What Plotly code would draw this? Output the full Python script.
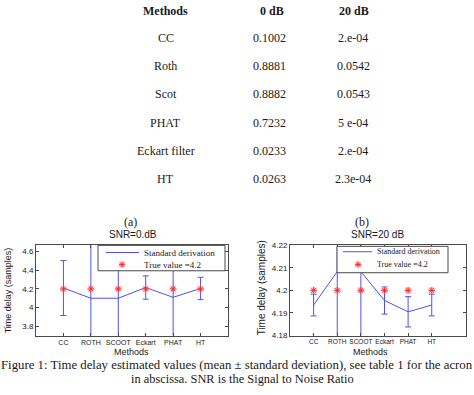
import plotly.graph_objects as go

# ---------------- data ----------------
table_methods = ["CC", "Roth", "Scot", "PHAT", "Eckart filter", "HT"]
table_0db = ["0.1002", "0.8881", "0.8882", "0.7232", "0.0233", "0.0263"]
table_20db = ["2.e-04", "0.0542", "0.0543", "5 e-04", "2.e-04", "2.3e-04"]

methods = ["CC", "ROTH", "SCOOT", "Eckart", "PHAT", "HT"]
method_pos = [1, 2, 3, 4, 5, 6]

mean_0db = [4.21, 4.10, 4.10, 4.215, 4.11, 4.205]
std_0db = [0.295, 0.888, 0.888, 0.125, 0.723, 0.12]

mean_20db = [4.1935, 4.2083, 4.2083, 4.1955, 4.1905, 4.1935]
std_20db = [0.0048, 0.0542, 0.0543, 0.006, 0.0067, 0.0048]

true_value = [4.2, 4.2, 4.2, 4.2, 4.2, 4.2]

yticks_0db = [3.8, 4.0, 4.2, 4.4, 4.6]
yticklabels_0db = ["3.8", "4", "4.2", "4.4", "4.6"]
yticks_20db = [4.18, 4.19, 4.20, 4.21, 4.22]
yticklabels_20db = ["4.18", "4.19", "4.2", "4.21", "4.22"]

# ---------------- helpers ----------------
W, H = 474, 395


def px(x):
    return x / W


def py(y):
    return 1 - y / H


BLUE = "#5050f0"
RED = "#ff2020"
GLOW = "rgba(255,160,160,0.45)"
FRAME = "#4a4a4a"
TXT = "#1a1a1a"
SANS = "Liberation Sans, Arial, sans-serif"
SERIF = "Liberation Serif, Times New Roman, serif"

fig = go.Figure()

panels = [
    dict(xa="x", ya="y", mean=mean_0db, std=std_0db),
    dict(xa="x2", ya="y2", mean=mean_20db, std=std_20db),
]
for p in panels:
    fig.add_trace(go.Scatter(
        x=method_pos, y=p["mean"], mode="lines",
        line=dict(color=BLUE, width=1),
        error_y=dict(type="data", array=p["std"], symmetric=True,
                     color=BLUE, thickness=1, width=3),
        xaxis=p["xa"], yaxis=p["ya"], showlegend=False, cliponaxis=True,
    ))
    fig.add_trace(go.Scatter(
        x=method_pos, y=true_value, mode="markers",
        marker=dict(symbol="circle", size=7, color=GLOW, line=dict(width=0)),
        xaxis=p["xa"], yaxis=p["ya"], showlegend=False, hoverinfo="skip",
    ))
    fig.add_trace(go.Scatter(
        x=method_pos, y=true_value, mode="markers",
        marker=dict(symbol="asterisk-open", size=5.5, color=RED,
                    line=dict(color=RED, width=0.9)),
        xaxis=p["xa"], yaxis=p["ya"], showlegend=False,
    ))

axis_common = dict(showline=True, linecolor=FRAME, linewidth=1, mirror="ticks",
                   ticks="inside", ticklen=3, tickcolor=FRAME, showgrid=False,
                   zeroline=False, tickangle=0)

fig.update_layout(
    width=W, height=H,
    margin=dict(l=0, r=0, t=0, b=0),
    paper_bgcolor="white", plot_bgcolor="white",
    showlegend=False,
    xaxis=dict(domain=[px(36), px(228)], range=[0, 7], tickvals=method_pos,
               ticktext=methods, anchor="y",
               tickfont=dict(family=SANS, size=7, color=TXT), **axis_common),
    yaxis=dict(domain=[py(339.3), py(246.7)], range=[3.70, 4.67],
               tickvals=yticks_0db, ticktext=yticklabels_0db, anchor="x",
               tickfont=dict(family=SANS, size=8, color=TXT), **axis_common),
    xaxis2=dict(domain=[px(290), px(466)], range=[0, 7.45], tickvals=method_pos,
                ticktext=methods, anchor="y2",
                tickfont=dict(family=SANS, size=6.5, color=TXT), **axis_common),
    yaxis2=dict(domain=[py(339.3), py(246.7)], range=[4.18, 4.22],
                tickvals=yticks_20db, ticktext=yticklabels_20db, anchor="x2",
                tickfont=dict(family=SANS, size=8, color=TXT), **axis_common),
)

ann = []


def text(x, y, s, size, family=SERIF, xanchor="center", angle=0, bold=False):
    if bold:
        s = "<b>" + s + "</b>"
    ann.append(dict(x=px(x), y=py(y), xref="paper", yref="paper", text=s,
                    showarrow=False, xanchor=xanchor, yanchor="middle",
                    textangle=angle, font=dict(family=family, size=size, color=TXT)))


# ---------------- table ----------------
text(165.5, 7, "Methods", 12, bold=True)
text(272, 7, "0 dB", 12, bold=True)
text(354, 7, "20 dB", 12, bold=True)
row_y = [34.5, 63.5, 92.5, 121.5, 150.5, 179.5]
for yy, m, a, b in zip(row_y, table_methods, table_0db, table_20db):
    text(165.5, yy, m, 12)
    text(269, yy, a, 12)
    text(353, yy, b, 12)

# ---------------- panel titles ----------------
text(130, 223, "(a)", 12)
text(133, 236, "SNR=0.dB", 10, family=SANS)
text(362, 223, "(b)", 12)
text(377, 236, "SNR=20 dB", 10, family=SANS)

# axis titles
text(8, 293, "Time delay (samples)", 9, family=SANS, angle=-90)
text(261, 291, "Time delay (samples)", 10, family=SANS, angle=-90)
text(131, 356.5, "Methods", 9, family=SANS)
text(370, 356.5, "Methods", 9, family=SANS)

# caption
text(237, 369, "Figure 1: Time delay estimated values (mean \u00b1 standard deviation), "
     "see table 1 for the acron", 12.8)
text(243, 384, "in abscissa. SNR is the Signal to Noise Ratio", 12.4)

# ---------------- legends (drawn manually) ----------------
shapes = []


def legend(x0, x1, y0, y1, lx0, lx1, ly1, ly2, mx, tx, fsize):
    shapes.append(dict(type="rect", xref="paper", yref="paper", x0=px(x0), x1=px(x1),
                       y0=py(y1), y1=py(y0), fillcolor="white",
                       line=dict(color=FRAME, width=1), layer="above"))
    shapes.append(dict(type="line", xref="paper", yref="paper", x0=px(lx0), x1=px(lx1),
                       y0=py(ly1), y1=py(ly1), line=dict(color=BLUE, width=1),
                       layer="above"))
    shapes.append(dict(type="circle", xref="paper", yref="paper", xsizemode="pixel",
                       ysizemode="pixel", xanchor=px(mx), yanchor=py(ly2),
                       x0=-3.5, x1=3.5, y0=-3.5, y1=3.5, fillcolor=GLOW,
                       line=dict(width=0), layer="above"))
    shapes.append(dict(type="path", xref="paper", yref="paper", xsizemode="pixel",
                       ysizemode="pixel", xanchor=px(mx), yanchor=py(ly2),
                       path="M-3,0L3,0M0,-3L0,3M-2.1,-2.1L2.1,2.1M-2.1,2.1L2.1,-2.1",
                       line=dict(color=RED, width=0.9), layer="above"))
    text(tx, ly1, "Standard derivation", fsize, xanchor="left")
    text(tx, ly2, "True value =4.2", fsize, xanchor="left")


legend(98, 225, 247, 273, 106, 139, 254.3, 266.7, 122, 142, 9)
legend(337, 448, 248, 275, 343, 372, 253.5, 266.5, 358, 375, 8)

fig.update_layout(annotations=ann, shapes=shapes)
fig.write_html("out.html",
               config={"displayModeBar": False},
               post_script="document.body.style.margin='0';"
                           "document.body.style.overflow='hidden';")
